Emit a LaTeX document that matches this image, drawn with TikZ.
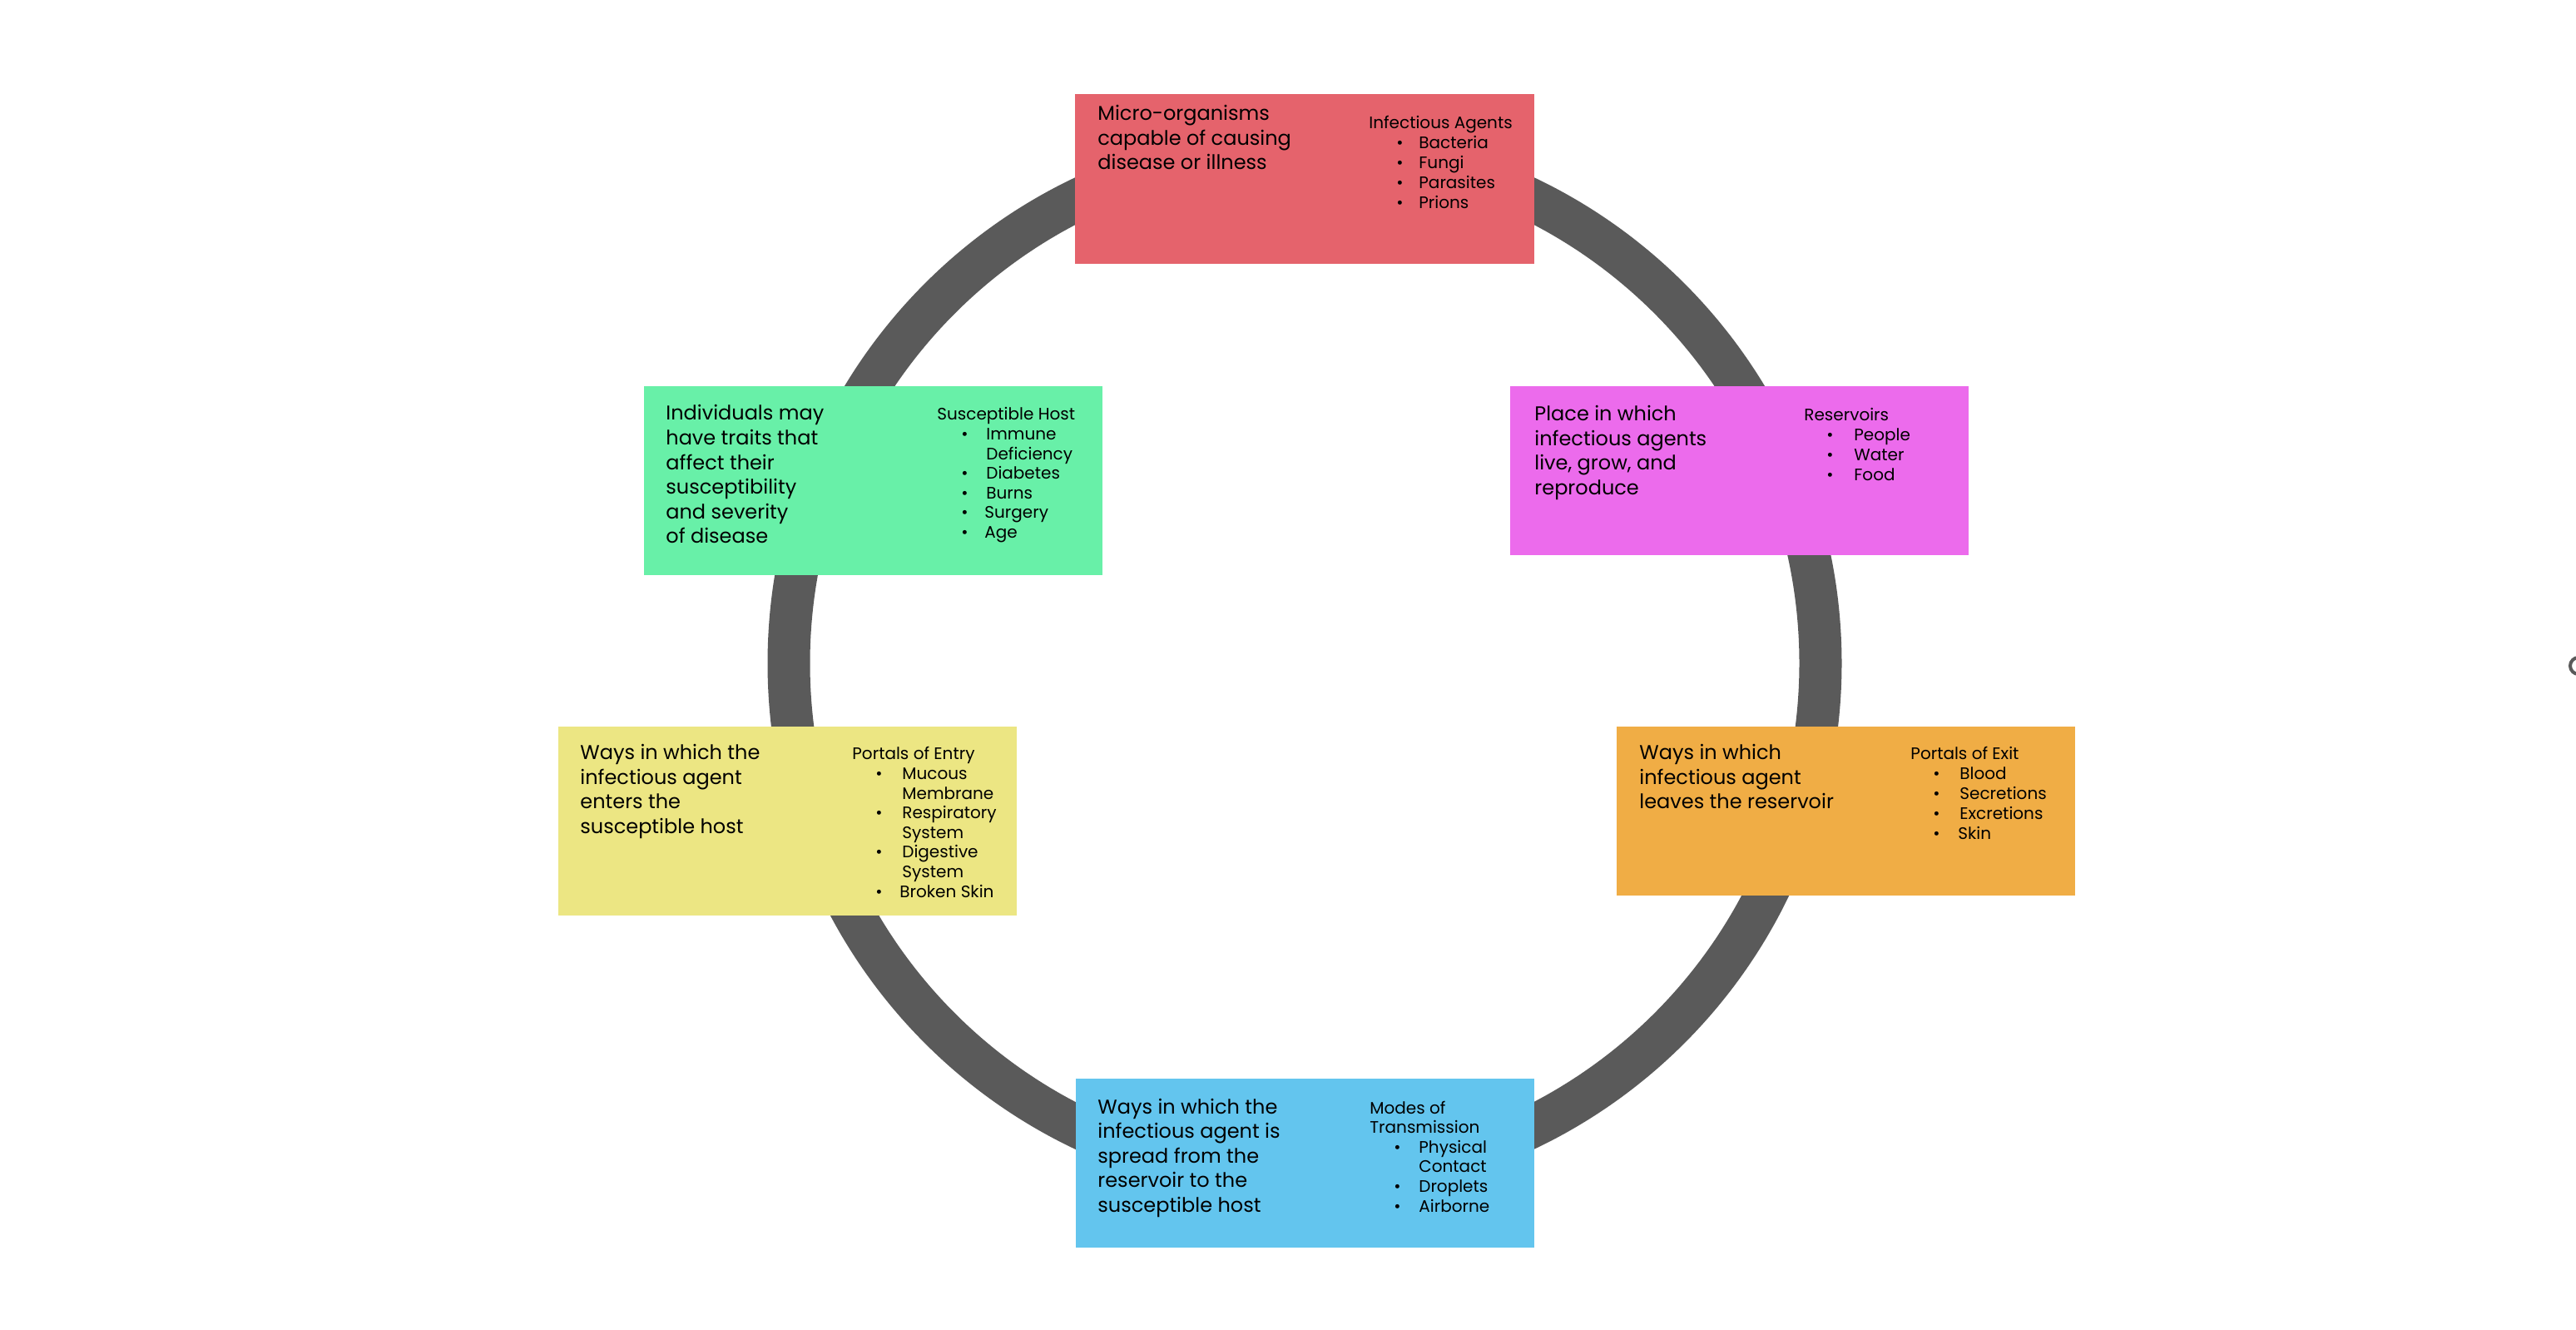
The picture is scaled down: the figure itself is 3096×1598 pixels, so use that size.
\documentclass[tikz,border=0pt]{standalone}
\usepackage{fontspec}
\setmainfont{Poppins}
\usetikzlibrary{fit}
\definecolor{ringc}{HTML}{5A5A5A}
\definecolor{redc}{HTML}{E5636C}
\definecolor{magc}{HTML}{EC6BEC}
\definecolor{orac}{HTML}{F0AD45}
\definecolor{bluc}{HTML}{63C5EE}
\definecolor{yelc}{HTML}{ECE683}
\definecolor{grnc}{HTML}{68F0A8}
\newcommand\Lines[2]{\vtop{\baselineskip=#1\lineskiplimit=-100pt\relax #2}}
\newcommand\Itm[3]{\hbox{\hspace*{#1}\makebox[#2][l]{\textbullet}#3}}
\newcommand\Cnt[3]{\hbox{\hspace*{#1}\hspace*{#2}#3}}
\tikzset{
  boxst/.style={fill=#1, draw=none, inner sep=0pt, outer sep=0pt},
  maintxt/.style={anchor=base west, inner sep=0pt, font=\fontsize{12}{14.75}\selectfont},
  listtxt/.style={anchor=base west, inner sep=0pt, font=\fontsize{10}{12}\selectfont},
  ringst/.style={draw=ringc, line width=25.5pt}
}
\begin{document}
\begin{tikzpicture}[x=0.5pt,y=-0.5pt]
\useasboundingbox (0,0) rectangle (3096,1598);
\clip (0,0) rectangle (3096,1598);
% ring
\coordinate (ctr) at (1568,797);
\draw[ringst] (ctr) circle [radius=310pt];
% small cut-off mark at right edge
\coordinate (edgec) at (3099,800);
\draw[draw=ringc, line width=2pt] (edgec) circle [radius=5pt];
% boxes
\node[boxst=redc, fit={(1292,113) (1844,317)}] (agents) {};
\node[boxst=magc, fit={(1815,464) (2366,667)}] (reserv) {};
\node[boxst=orac, fit={(1943,873) (2494,1076)}] (exit) {};
\node[boxst=bluc, fit={(1293,1296) (1844,1499)}] (trans) {};
\node[boxst=yelc, fit={(671,873) (1222,1100)}] (entry) {};
\node[boxst=grnc, fit={(774,464) (1325,691)}] (host) {};
% red
\node[maintxt] (agentsT) at (1319,145) {\Lines{14.75pt}{\hbox{Micro-organisms}\hbox{capable of causing}\hbox{disease or illness}}};
\node[listtxt] (agentsL) at (1645,155) {\Lines{12pt}{\hbox{Infectious Agents}\Itm{16.5pt}{13.5pt}{Bacteria}\Itm{16.5pt}{13.5pt}{Fungi}\Itm{16.5pt}{13.5pt}{Parasites}\Itm{16.5pt}{13.5pt}{Prions}}};
% magenta
\node[maintxt] (reservT) at (1844,506) {\Lines{14.75pt}{\hbox{Place in which}\hbox{infectious agents}\hbox{live, grow, and}\hbox{reproduce}}};
\node[listtxt] (reservL) at (2168,506) {\Lines{12pt}{\hbox{Reservoirs}\Itm{13.5pt}{16.5pt}{People}\Itm{13.5pt}{16.5pt}{Water}\Itm{13.5pt}{16.5pt}{Food}}};
% orange
\node[maintxt] (exitT) at (1970,913) {\Lines{14.75pt}{\hbox{Ways in which}\hbox{infectious agent}\hbox{leaves the reservoir}}};
\node[listtxt] (exitL) at (2296,913) {\Lines{12pt}{\hbox{Portals of Exit}\Itm{13.5pt}{16pt}{Blood}\Itm{13.5pt}{16pt}{Secretions}\Itm{13.5pt}{16pt}{Excretions}\Itm{13.5pt}{15pt}{Skin}}};
% blue
\node[maintxt] (transT) at (1319,1338) {\Lines{14.75pt}{\hbox{Ways in which the}\hbox{infectious agent is}\hbox{spread from the}\hbox{reservoir to the}\hbox{susceptible host}}};
\node[listtxt] (transL) at (1646,1338) {\Lines{11.8pt}{\hbox{Modes of}\hbox{Transmission}\Itm{14.5pt}{15pt}{Physical}\Cnt{14.5pt}{15pt}{Contact}\Itm{14.5pt}{15pt}{Droplets}\Itm{14.5pt}{15pt}{Airborne}}};
% yellow
\node[maintxt] (entryT) at (697,913) {\Lines{14.75pt}{\hbox{Ways in which the}\hbox{infectious agent}\hbox{enters the}\hbox{susceptible host}}};
\node[listtxt] (entryL) at (1024,913) {\Lines{11.8pt}{\hbox{Portals of Entry}\Itm{14pt}{16pt}{Mucous}\Cnt{14pt}{16pt}{Membrane}\Itm{14pt}{16pt}{Respiratory}\Cnt{14pt}{16pt}{System}\Itm{14pt}{16pt}{Digestive}\Cnt{14pt}{16pt}{System}\Itm{14pt}{14.5pt}{Broken Skin}}};
% green
\node[maintxt] (hostT) at (800,505) {\Lines{14.8pt}{\hbox{Individuals may}\hbox{have traits that}\hbox{affect their}\hbox{susceptibility}\hbox{and severity}\hbox{of disease}}};
\node[listtxt] (hostL) at (1126,505) {\Lines{11.8pt}{\hbox{Susceptible Host}\Itm{14.5pt}{15pt}{Immune}\Cnt{14.5pt}{15pt}{Deficiency}\Itm{14.5pt}{15pt}{Diabetes}\Itm{14.5pt}{15pt}{Burns}\Itm{14.5pt}{14pt}{Surgery}\Itm{14.5pt}{14pt}{Age}}};
\end{tikzpicture}
\end{document}
